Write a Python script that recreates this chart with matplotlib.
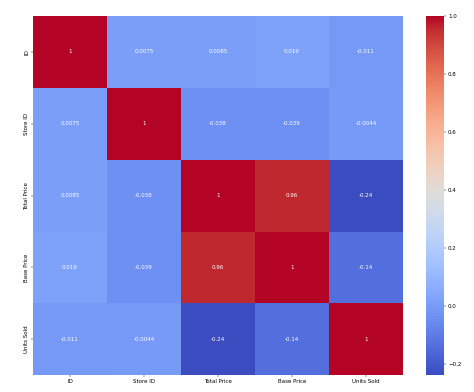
import numpy as np
import pandas as pd
import matplotlib
matplotlib.use("Agg")
import matplotlib.pyplot as plt
import seaborn as sns

labels = ["ID", "Store ID", "Total Price", "Base Price", "Units Sold"]
row_id = [1, 0.0075, 0.0085, 0.019, -0.011]
row_store = [0.0075, 1, -0.038, -0.039, -0.0044]
row_total = [0.0085, -0.038, 1, 0.96, -0.24]
row_base = [0.019, -0.039, 0.96, 1, -0.14]
row_units = [-0.011, -0.0044, -0.24, -0.14, 1]

corr = pd.DataFrame([row_id, row_store, row_total, row_base, row_units],
                    index=labels, columns=labels)

fig = plt.figure(figsize=(12, 392 / 39.5), dpi=39.5)
ax = fig.add_axes([0.0696, 0.043, 0.7804, 0.916])
cax = fig.add_axes([0.899, 0.043, 0.038, 0.916])
sns.heatmap(corr, annot=True, cmap="coolwarm", ax=ax, cbar_ax=cax)
fig.savefig("out.png", dpi=39.5)
